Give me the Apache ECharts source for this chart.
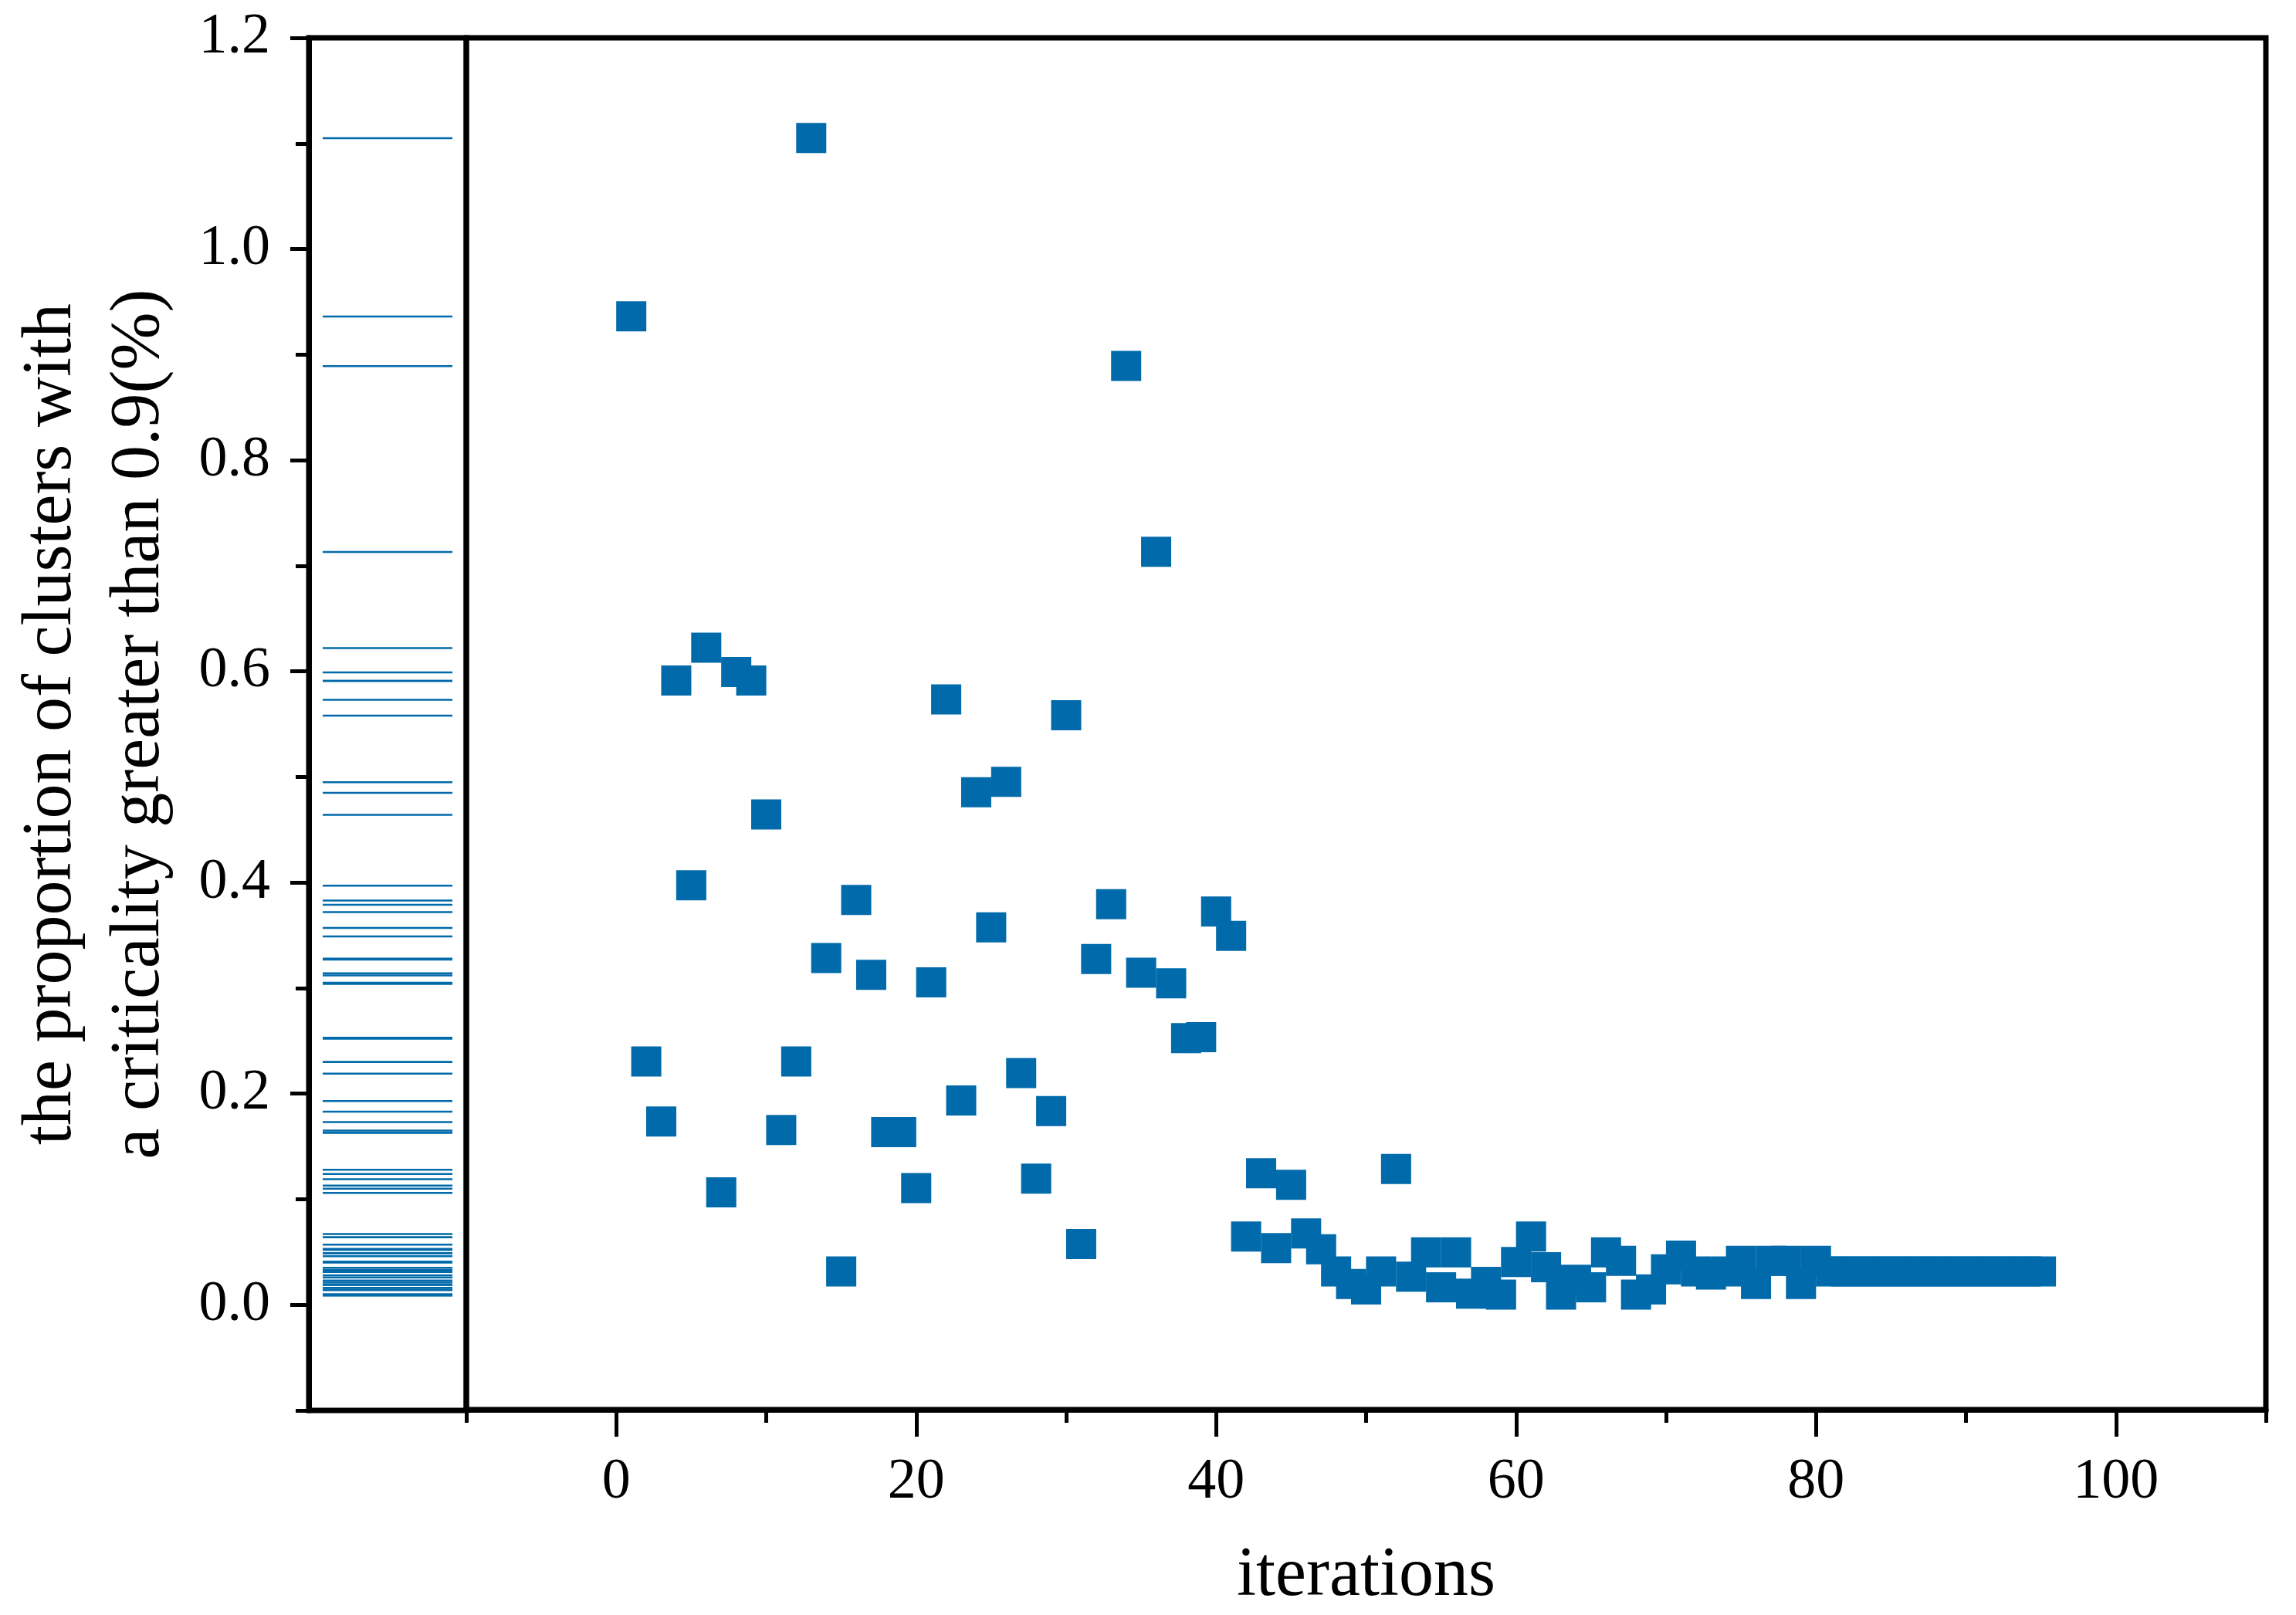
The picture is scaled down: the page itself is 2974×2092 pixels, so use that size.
<!DOCTYPE html>
<html>
<head>
<meta charset="utf-8">
<script src="https://cdn.jsdelivr.net/npm/echarts@6/dist/echarts.min.js"></script>
<style>
  html, body { margin: 0; padding: 0; background: #fff; }
  #chart { width: 2974px; height: 2092px; }
</style>
</head>
<body>
<div id="chart"></div>
<script>
// iteration number of each point
const iterations = [
  1, 2, 3, 4, 5, 6, 7, 8, 9, 10, 11, 12, 13, 14, 15, 16, 17, 18, 19, 20,
  21, 22, 23, 24, 25, 26, 27, 28, 29, 30, 31, 32, 33, 34, 35, 36, 37, 38, 39, 40,
  41, 42, 43, 44, 45, 46, 47, 48, 49, 50, 51, 52, 53, 54, 55, 56, 57, 58, 59, 60,
  61, 62, 63, 64, 65, 66, 67, 68, 69, 70, 71, 72, 73, 74, 75, 76, 77, 78, 79, 80,
  81, 82, 83, 84, 85, 86, 87, 88, 89, 90, 91, 92, 93, 94, 95
];
// proportion of clusters with criticality > 0.9 (%)
const proportion = [
  0.936, 0.230, 0.173, 0.591, 0.397, 0.622, 0.106, 0.599, 0.591, 0.464,
  0.165, 0.230, 1.105, 0.328, 0.031, 0.383, 0.312, 0.163, 0.163, 0.110,
  0.305, 0.573, 0.193, 0.485, 0.357, 0.495, 0.219, 0.119, 0.183, 0.558,
  0.057, 0.327, 0.379, 0.889, 0.314, 0.713, 0.304, 0.252, 0.253, 0.372,
  0.349, 0.064, 0.124, 0.053, 0.113, 0.067, 0.052, 0.031, 0.019, 0.014,
  0.031, 0.128, 0.026, 0.049, 0.016, 0.049, 0.010, 0.021, 0.009, 0.040,
  0.064, 0.035, 0.009, 0.023, 0.016, 0.049, 0.041, 0.009, 0.014, 0.033,
  0.046, 0.031, 0.028, 0.031, 0.041, 0.019, 0.041, 0.041, 0.019, 0.041,
  0.031, 0.031, 0.031, 0.031, 0.031, 0.031, 0.031, 0.031, 0.031, 0.031,
  0.031, 0.031, 0.031, 0.031, 0.031
];
const xMajorTicks = [0, 20, 40, 60, 80, 100];
const xMinorTicks = [-10, 10, 30, 50, 70, 90, 110];
const yMajorTicks = [0, 0.2, 0.4, 0.6, 0.8, 1.0, 1.2];
const yMinorTicks = [-0.1, 0.1, 0.3, 0.5, 0.7, 0.9, 1.1];

const blue = 'rgb(0,106,170)';
const serif = '"Liberation Serif", "Times New Roman", serif';

const points = iterations.map((x, i) => [x, proportion[i]]);
const rug = proportion.map(v => [0, v]);

const chart = echarts.init(document.getElementById('chart'));
chart.setOption({
  animation: false,
  backgroundColor: '#fff',
  grid: [
    { left: 400, width: 204, top: 49, height: 1778, show: true, borderColor: '#000', borderWidth: 7 },
    { left: 604, right: 39, top: 49, height: 1778, show: true, borderColor: '#000', borderWidth: 7 }
  ],
  xAxis: [
    { gridIndex: 0, type: 'value', min: -1, max: 1, show: false },
    {
      gridIndex: 1, type: 'value', min: -10, max: 110, position: 'bottom',
      axisLine: { show: true, onZero: false, lineStyle: { color: '#000', width: 7 } },
      axisTick: { show: true, customValues: xMajorTicks, length: 35, lineStyle: { color: '#000', width: 5 } },
      axisLabel: { customValues: xMajorTicks, margin: 58, color: '#000', fontSize: 74, fontFamily: serif },
      splitLine: { show: false },
      name: 'iterations', nameLocation: 'middle', nameGap: 171,
      nameTextStyle: { color: '#000', fontSize: 90, fontFamily: serif }
    },
    {
      gridIndex: 1, type: 'value', min: -10, max: 110, position: 'bottom',
      axisLine: { show: false, onZero: false },
      axisTick: { show: true, customValues: xMinorTicks, length: 17, lineStyle: { color: '#000', width: 5 } },
      axisLabel: { show: false },
      splitLine: { show: false }
    }
  ],
  yAxis: [
    {
      gridIndex: 0, type: 'value', min: -0.1, max: 1.2, position: 'left',
      axisLine: { show: true, onZero: false, lineStyle: { color: '#000', width: 7 } },
      axisTick: { show: true, customValues: yMajorTicks, length: 24, lineStyle: { color: '#000', width: 5 } },
      axisLabel: {
        customValues: yMajorTicks, margin: 50, color: '#000', fontSize: 74, fontFamily: serif,
        formatter: v => v.toFixed(1)
      },
      splitLine: { show: false },
      name: 'the proportion of clusters with\na criticality greater than 0.9(%)',
      nameLocation: 'middle', nameRotate: 90, nameGap: 162,
      nameTextStyle: { color: '#000', fontSize: 90, lineHeight: 114, fontFamily: serif }
    },
    {
      gridIndex: 0, type: 'value', min: -0.1, max: 1.2, position: 'left',
      axisLine: { show: false, onZero: false },
      axisTick: { show: true, customValues: yMinorTicks, length: 17, lineStyle: { color: '#000', width: 5 } },
      axisLabel: { show: false },
      splitLine: { show: false }
    },
    { gridIndex: 1, type: 'value', min: -0.1, max: 1.2, show: false }
  ],
  series: [
    {
      type: 'scatter', xAxisIndex: 0, yAxisIndex: 0,
      data: rug, symbol: 'rect', symbolSize: [168, 2.5],
      itemStyle: { color: blue, opacity: 1 }
    },
    {
      type: 'scatter', xAxisIndex: 1, yAxisIndex: 2,
      data: points, symbol: 'rect', symbolSize: 39,
      itemStyle: { color: blue, opacity: 1 }
    }
  ]
});
</script>
</body>
</html>
